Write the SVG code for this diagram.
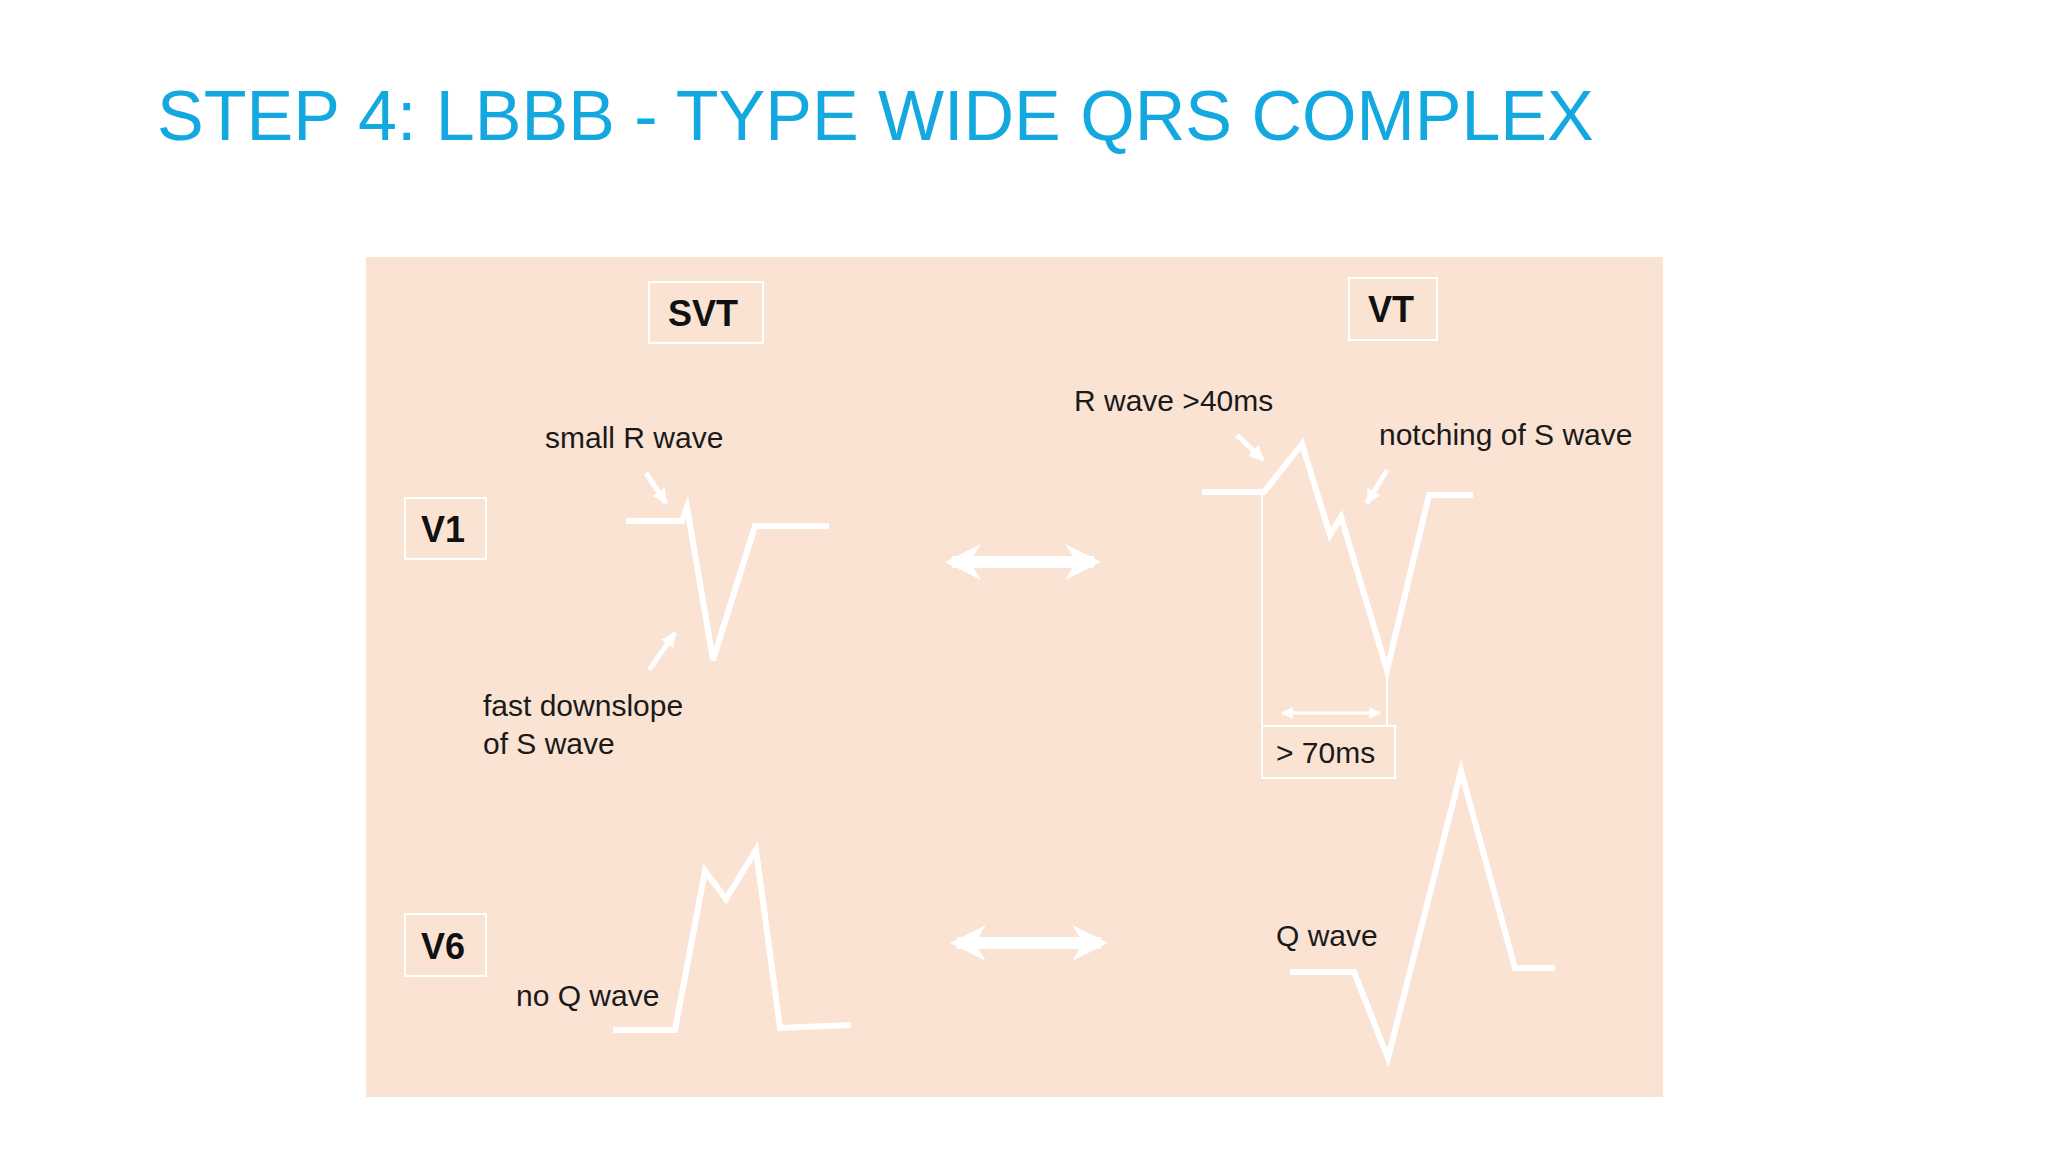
<svg xmlns="http://www.w3.org/2000/svg" width="2048" height="1152" viewBox="0 0 2048 1152">
<defs>
<style>
.t{font-family:"Liberation Sans",Arial,sans-serif;fill:#1a1a1a;font-size:30px}
.b{font-family:"Liberation Sans",Arial,sans-serif;font-weight:bold;fill:#111;font-size:36px;text-anchor:middle}
.box{fill:none;stroke:#fff;stroke-width:2}
.w{fill:none;stroke:#fff;stroke-width:6;stroke-linejoin:miter}
.thin{stroke:#fff;stroke-width:2}
.ar{fill:none;stroke:#fff;stroke-width:5}
</style>
<marker id="ah" viewBox="0 0 10 10" refX="9" refY="5" markerWidth="3" markerHeight="3" orient="auto-start-reverse"><path d="M0,0 L10,5 L0,10 z" fill="#fff"/></marker>
<marker id="sm" viewBox="0 0 10 10" refX="9" refY="5" markerWidth="4" markerHeight="4" orient="auto-start-reverse"><path d="M0,0 L10,5 L0,10 z" fill="#fff"/></marker>
<marker id="big" viewBox="0 0 10 10" refX="8" refY="5" markerWidth="3" markerHeight="3" orient="auto-start-reverse"><path d="M0,0 L10,5 L0,10 L3,5 z" fill="#fff"/></marker>
</defs>
<rect width="2048" height="1152" fill="#fff"/>
<text x="157" y="140" font-family="Liberation Sans,Arial,sans-serif" font-size="70" fill="#13a8e0">STEP 4: LBBB - TYPE WIDE QRS COMPLEX</text>
<rect x="366" y="257" width="1297" height="840" fill="#fae3d3"/>
<g id="svt"><rect class="box" x="649" y="282" width="114" height="61"/><text class="b" x="703" y="326">SVT</text></g>
<g id="vt"><rect class="box" x="1349" y="278" width="88" height="62"/><text class="b" x="1391" y="322">VT</text></g>
<g id="v1"><rect class="box" x="405" y="498" width="81" height="61"/><text class="b" x="443" y="542">V1</text></g>
<g id="v6"><rect class="box" x="405" y="914" width="81" height="62"/><text class="b" x="443" y="959">V6</text></g>
<g id="ms70"><rect class="box" x="1262" y="726" width="133" height="52"/><text class="t" x="1276" y="763">&gt; 70ms</text></g>
<g id="labels">
<text class="t" x="545" y="448">small R wave</text>
<text class="t" x="1074" y="411">R wave &gt;40ms</text>
<text class="t" x="1379" y="445">notching of S wave</text>
<text class="t" x="483" y="716">fast downslope</text>
<text class="t" x="483" y="754">of S wave</text>
<text class="t" x="516" y="1006">no Q wave</text>
<text class="t" x="1276" y="946">Q wave</text>
</g>
<g id="waves">
<polyline class="w" points="626,521 682,521 687,507 713,660 755,526 829,526"/>
<polyline class="w" points="1202,492 1264,492 1302,444 1330,535 1341,517 1387,670 1429,495 1473,495"/>
<polyline class="w" points="613,1030 675,1030 705,871 726,899 756,850 780,1028 851,1025"/>
<polyline class="w" points="1290,972 1354,972 1388,1058 1461,771 1515,968 1555,968"/>
</g>
<g id="connectors">
<line class="ar" x1="646" y1="473" x2="666" y2="503" marker-end="url(#ah)"/>
<line class="ar" x1="649" y1="670" x2="675" y2="633" marker-end="url(#ah)"/>
<line class="ar" x1="1237" y1="435" x2="1263" y2="460" marker-end="url(#ah)"/>
<line class="ar" x1="1387" y1="470" x2="1367" y2="503" marker-end="url(#ah)"/>
<line class="thin" x1="1262" y1="492" x2="1262" y2="726"/>
<line class="thin" x1="1387" y1="670" x2="1387" y2="726"/>
<line stroke="#fff" stroke-width="3" x1="1282" y1="713" x2="1380" y2="713" marker-start="url(#sm)" marker-end="url(#sm)"/>
<line stroke="#fff" stroke-width="12" x1="952" y1="562" x2="1094" y2="562" marker-start="url(#big)" marker-end="url(#big)"/>
<line stroke="#fff" stroke-width="12" x1="957" y1="943" x2="1101" y2="943" marker-start="url(#big)" marker-end="url(#big)"/>
</g>
</svg>
